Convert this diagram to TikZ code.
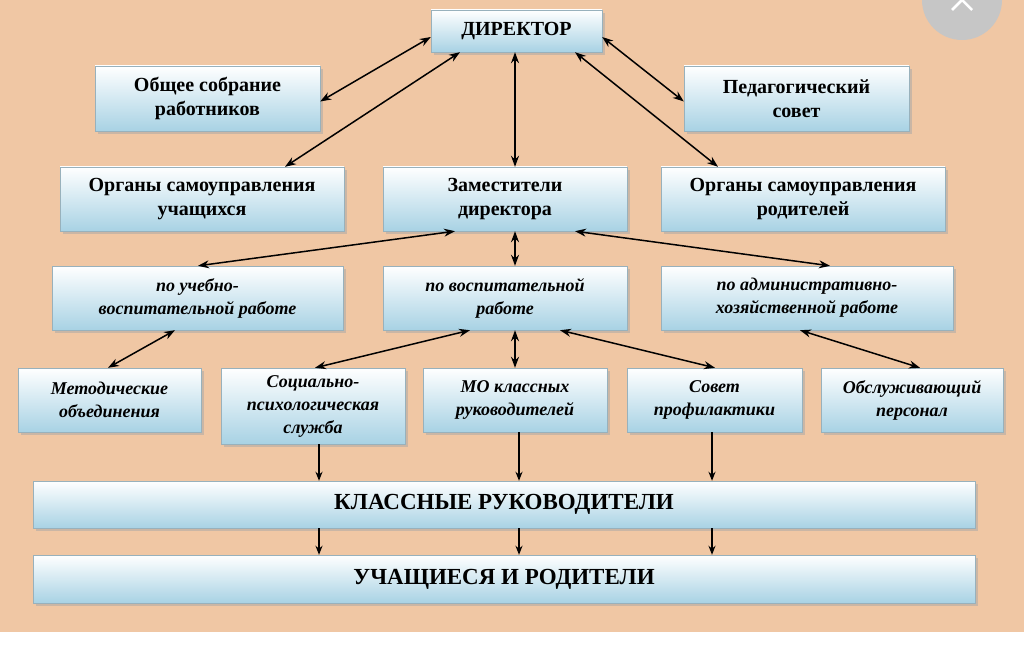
\documentclass[tikz,border=0pt]{standalone}
\usepackage{fontspec}
\setmainfont{Liberation Serif}
\usetikzlibrary{shadows,arrows.meta}
\definecolor{bgp}{HTML}{F0C7A4}
\definecolor{boxb}{HTML}{A8D2E4}
\tikzset{
 bx/.style={draw=boxb!60!gray, top color=white, bottom color=boxb, drop shadow={shadow xshift=3pt,shadow yshift=-3pt,fill=gray!70},
   align=center, font=\bfseries\fontsize{20}{24}\selectfont, inner sep=2pt},
 ib/.style={bx, font=\bfseries\itshape\fontsize{18}{23}\selectfont},
 dbl/.style={{Stealth[length=11pt,width=8pt]}-{Stealth[length=11pt,width=8pt]}, line width=1.5pt},
 one/.style={-{Stealth[length=9pt,width=7pt]}, line width=1.5pt}
}
\newcommand{\bxat}[5]{\node[#1, minimum width=#4-#2, minimum height=#5-#3] at ({(#2+#4)/2},{(#3+#5)/2})}
\begin{document}
\begin{tikzpicture}[x=1pt,y=-1pt]
\useasboundingbox (0,0) rectangle (1024,663);
\fill[white] (0,0) rectangle (1024,663);
\fill[bgp] (0,0) rectangle (1024,632);
\begin{scope}
\clip (0,0) rectangle (1024,663);
\fill[gray!45] (962,0) circle (40);
\draw[white,line width=2.5pt] (952,-10)--(972,10) (952,10)--(972,-10);
\end{scope}
\bxat{bx}{431}{10}{602}{52} (dir) {ДИРЕКТОР};
\bxat{bx}{95}{66}{320}{131} (obs) {Общее собрание\\работников};
\bxat{bx}{684}{66}{909}{131} (ped) {Педагогический\\совет};
\bxat{bx}{60}{167}{344}{231} (osu) {Органы самоуправления\\учащихся};
\bxat{bx}{383}{167}{627}{231} (zam) {Заместители\\директора};
\bxat{bx}{661}{167}{945}{231} (osr) {Органы самоуправления\\родителей};
\bxat{ib}{52}{266}{343}{330} (uvr) {по учебно-\\воспитательной работе};
\bxat{ib}{383}{266}{627}{330} (vr) {по воспитательной\\работе};
\bxat{ib}{661}{266}{953}{330} (ahr) {по административно-\\хозяйственной работе};
\bxat{ib}{18}{368}{201}{432} (mo) {Методические\\объединения};
\bxat{ib}{221}{368}{405}{444} (sps) {Социально-\\психологическая\\служба};
\bxat{ib}{423}{368}{607}{432} (mok) {МО классных\\руководителей};
\bxat{ib}{627}{368}{802}{432} (sp) {Совет\\профилактики};
\bxat{ib}{821}{368}{1003}{432} (op) {Обслуживающий\\персонал};
\bxat{bx}{33}{481}{975}{528} (kr) {\fontsize{23}{27}\selectfont КЛАССНЫЕ РУКОВОДИТЕЛИ};
\bxat{bx}{33}{555}{975}{603} (ur) {\fontsize{23}{27}\selectfont УЧАЩИЕСЯ И РОДИТЕЛИ};
\draw[dbl] ([yshift=-6]dir.west) -- ([yshift=-3]obs.east);
\draw[dbl] ([yshift=-6]dir.east) -- ([yshift=-3]ped.west);
\draw[dbl] (dir.south -| 460,0) -- (osu.north -| 285,0);
\draw[dbl] (dir.south -| 515,0) -- (zam.north -| 515,0);
\draw[dbl] (dir.south -| 575,0) -- (osr.north -| 718,0);
\draw[dbl] (zam.south -| 455,0) -- (uvr.north -| 198,0);
\draw[dbl] (zam.south -| 515,0) -- (vr.north -| 515,0);
\draw[dbl] (zam.south -| 575,0) -- (ahr.north -| 830,0);
\draw[dbl] (uvr.south -| 175,0) -- (mo.north -| 108,0);
\draw[dbl] (vr.south -| 470,0) -- (sps.north -| 315,0);
\draw[dbl] (vr.south -| 515,0) -- (mok.north -| 515,0);
\draw[dbl] (vr.south -| 560,0) -- (sp.north -| 715,0);
\draw[dbl] (ahr.south -| 800,0) -- (op.north -| 920,0);
\foreach \a/\x in {sps/319,mok/519,sp/712}{
 \draw[one] (\a.south -| \x,0) -- (kr.north -| \x,0);
 \draw[one] (kr.south -| \x,0) -- (ur.north -| \x,0);}
\end{tikzpicture}
\end{document}
